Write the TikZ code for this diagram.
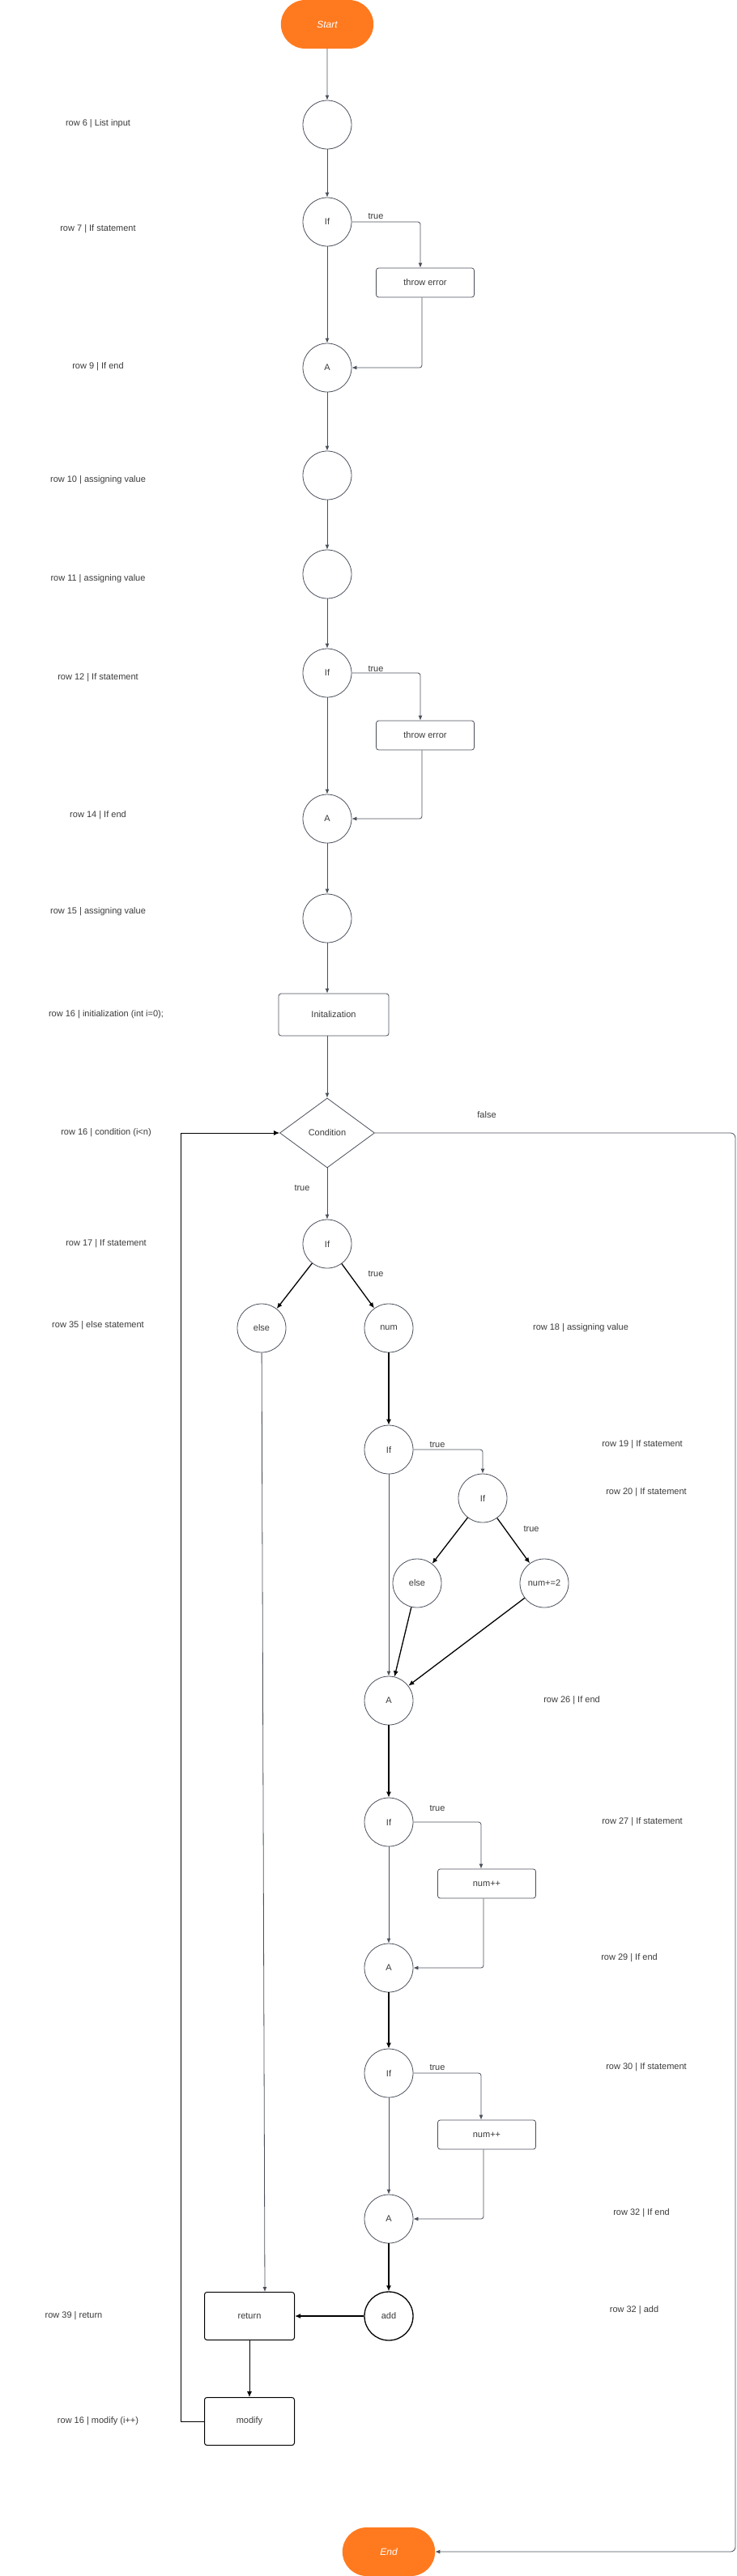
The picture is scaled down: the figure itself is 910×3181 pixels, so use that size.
\documentclass[tikz,border=0pt]{standalone}
\usepackage{fontspec}
\setmainfont{Liberation Sans}
\usetikzlibrary{shapes.geometric,shapes.misc,arrows.meta}
\definecolor{ln}{HTML}{4A4F5A}
\definecolor{tx}{HTML}{3A3A3A}
\definecolor{orng}{HTML}{FF7A1F}
\begin{document}
\begin{tikzpicture}[x=1pt,y=-1pt,
  every node/.style={font=\fontsize{11}{13}\selectfont,text=tx},
  term/.style={rounded rectangle,fill=orng,minimum width=121,minimum height=60,text=white,font=\fontsize{12}{14}\selectfont\itshape},
  circ/.style={circle,draw=ln,line width=0.8pt,minimum size=60,inner sep=0},
  bcirc/.style={circle,draw=black,line width=1.3pt,minimum size=60,inner sep=0},
  box/.style={draw=ln,line width=0.8pt,rounded corners=3,minimum width=121,minimum height=36},
  bbox/.style={draw=black,line width=1pt,rounded corners=3,minimum width=111,minimum height=59},
  arr/.style={draw=ln,line width=0.8pt,-{Latex[length=6,width=5]}},
  barr/.style={draw=black,line width=1.3pt,-{Latex[length=7,width=6]}},
  tarr/.style={draw=black,line width=0.9pt,-{Latex[length=7,width=6]}}]
\useasboundingbox (0,0) rectangle (910,3181);
% nodes
\node[term] (start) at (404,30) {Start};
\node[circ] (c6) at (404,154) {};
\node[circ] (if7) at (404,274) {If};
\node[box] (te1) at (525,349) {throw error};
\node[circ] (a9) at (404,454) {A};
\node[circ] (c10) at (404,587) {};
\node[circ] (c11) at (404,709) {};
\node[circ] (if12) at (404,831) {If};
\node[box] (te2) at (525,908) {throw error};
\node[circ] (a14) at (404,1011) {A};
\node[circ] (c15) at (404,1134) {};
\node[draw=ln,line width=0.8pt,rounded corners=3,minimum width=136,minimum height=52] (init) at (412,1253) {Initalization};
\node[diamond,draw=ln,line width=0.8pt,minimum width=117,minimum height=86,inner sep=0,aspect=1.36] (cond) at (404,1399) {Condition};
\node[circ] (if17) at (404,1536) {If};
\node[circ] (else1) at (323,1640) {else};
\node[circ] (num) at (480,1640) {num};
\node[circ] (if19) at (480,1790) {If};
\node[circ] (if20) at (596,1850) {If};
\node[circ] (else2) at (515,1955) {else};
\node[circ] (np2) at (672,1955) {num+=2};
\node[circ] (a26) at (480,2100) {A};
\node[circ] (if27) at (480,2250) {If};
\node[box] (pp1) at (601,2326) {num++};
\node[circ] (a29) at (480,2430) {A};
\node[circ] (if30) at (480,2560) {If};
\node[box] (pp2) at (601,2636) {num++};
\node[circ] (a32) at (480,2740) {A};
\node[bcirc] (add) at (480,2860) {add};
\node[bbox] (ret) at (308,2860) {return};
\node[bbox] (mod) at (308,2990) {modify};
\node[term] (end) at (480,3151) {End};
% labels
\node (l1) at (121,153) {row 6 | List input};
\node (l2) at (121,283) {row 7 | If statement};
\node (l3) at (121,453) {row 9 | If end};
\node (l4) at (121,593) {row 10 | assigning value};
\node (l5) at (121,715) {row 11 | assigning value};
\node (l6) at (121,837) {row 12 | If statement};
\node (l7) at (121,1007) {row 14 | If end};
\node (l8) at (121,1126) {row 15 | assigning value};
\node (l9) at (131,1253) {row 16 | initialization (int i=0);};
\node (l10) at (131,1399) {row 16 | condition (i<n)};
\node (l11) at (131,1536) {row 17 | If statement};
\node (l12) at (121,1637) {row 35 | else statement};
\node (l13) at (717,1640) {row 18 | assigning value};
\node (l14) at (793,1784) {row 19 | If statement};
\node (l15) at (798,1843) {row 20 | If statement};
\node (l16) at (706,2100) {row 26 | If end};
\node (l17) at (793,2250) {row 27 | If statement};
\node (l18) at (777,2418) {row 29 | If end};
\node (l19) at (798,2553) {row 30 | If statement};
\node (l20) at (792,2733) {row 32 | If end};
\node (l21) at (783,2853) {row 32 | add};
\node (l22) at (91,2860) {row 39 | return};
\node (l23) at (121,2990) {row 16 | modify (i++)};
\node (t1) at (464,267) {true};
\node (t2) at (464,826) {true};
\node (f1) at (601,1377) {false};
\node (t3) at (373,1467) {true};
\node (t4) at (464,1573) {true};
\node (t5) at (540,1784) {true};
\node (t6) at (656,1888) {true};
\node (t7) at (540,2233) {true};
\node (t8) at (540,2553) {true};
% connectors
\draw[arr] (start) -- (c6);
\draw[arr] (c6) -- (if7);
\draw[arr] (if7) -- (a9);
\draw[arr,rounded corners=3] (if7.east) -| (te1.north-|519,0);
\draw[arr,rounded corners=3] (te1.south-|521,0) |- (a9.east);
\draw[arr] (a9) -- (c10);
\draw[arr] (c10) -- (c11);
\draw[arr] (c11) -- (if12);
\draw[arr] (if12) -- (a14);
\draw[arr,rounded corners=3] (if12.east) -| (te2.north-|519,0);
\draw[arr,rounded corners=3] (te2.south-|521,0) |- (a14.east);
\draw[arr] (a14) -- (c15);
\draw[arr] (c15) -- (c15|-init.north);
\draw[arr] (init.south-|cond) -- (cond);
\draw[arr] (cond) -- (if17);
\draw[barr] (if17) -- (else1);
\draw[barr] (if17) -- (num);
\draw[barr] (num) -- (if19);
\draw[arr] (if19) -- (a26);
\draw[arr,rounded corners=3] (if19.east) -| (if20.north);
\draw[barr] (if20) -- (else2);
\draw[barr] (if20) -- (np2);
\draw[barr] (else2) -- (a26);
\draw[barr] (np2) -- (a26);
\draw[barr] (a26) -- (if27);
\draw[arr] (if27) -- (a29);
\draw[arr,rounded corners=3] (if27.east) -| (pp1.north-|594,0);
\draw[arr,rounded corners=3] (pp1.south-|597,0) |- (a29.east);
\draw[barr] (a29) -- (if30);
\draw[arr] (if30) -- (a32);
\draw[arr,rounded corners=3] (if30.east) -| (pp2.north-|594,0);
\draw[arr,rounded corners=3] (pp2.south-|597,0) |- (a32.east);
\draw[barr] (a32) -- (add);
\draw[barr] (add) -- (ret);
\draw[arr] (else1) -- (ret.north-|327,0);
\draw[tarr] (ret) -- (mod);
\coordinate (lp1) at (223,2990);
\coordinate (lp2) at (223,1399);
\draw[tarr] (mod.west) -- (lp1) -- (lp2) -- (cond.west);
\coordinate (fr) at (908,1399);
\draw[arr,rounded corners=6] (cond.east) -- (fr) |- (end.east);
\end{tikzpicture}
\end{document}
